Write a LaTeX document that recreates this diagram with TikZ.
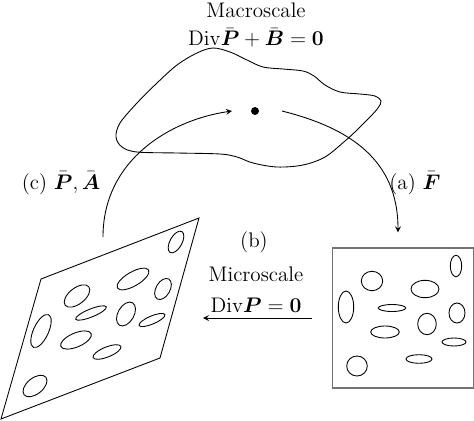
\documentclass[tikz,border=0pt]{standalone}
\usepackage{amsmath,amsfonts,amssymb}
\usepackage{tikz}
\usetikzlibrary{positioning}
\definecolor{boxgray}{rgb}{0.45,0.45,0.45}

\begin{document}
\begin{tikzpicture}[x=0.02cm, y=-0.02cm, line width=0.5pt, font=\large,
  arr/.style={->,>=stealth},
  incl/.style={line width=0.5pt}]
\useasboundingbox (0,0) rectangle (474,420);
% macroscale body
\draw plot[smooth cycle, tension=0.55] coordinates {(213,48) (230,52) (247,60) (263,67) (283,69) (303,71) (314,76) (325,85) (340,92) (360,94) (375,96) (381,101) (378,108) (370,117) (357,130) (345,141) (325,157) (303,165) (277,167) (253,163) (237,157) (220,154) (177,153) (137,152) (122,147) (116,137) (120,123) (137,103) (157,83) (177,65) (197,53)};
\node[circle, fill, inner sep=1.6pt] (pt) at (255,111) {};
\node (macro) at (256,10) {Macroscale};
\node (macroeq) at (256,38) {$\mathrm{Div}\bar{\boldsymbol{P}}+\bar{\boldsymbol{B}}=\boldsymbol{0}$};
% deformed cell
\coordinate (tl) at (41,279);
\coordinate (tr) at (199,218);
\coordinate (br) at (160,358);
\coordinate (bl) at (1,419);
\draw (tl) -- (tr) -- (br) -- (bl) -- cycle;
\foreach \x/\y/\a/\b/\r in {176/242/12/6/61, 133/279/18/7/30, 163/289/11.5/7/60, 77/296/15/8/38, 91/313/16.5/4/22, 126/314/13/8/60, 152/320/14/4/23, 41/331/18/7.5/65, 76/340/16.5/7/23, 107/352/15/5/22, 35/386/14/8/39}
  \draw[incl, shift={(\x,\y)}, rotate=\r] (0,0) ellipse [x radius=\a, y radius=\b];
% reference cell
\node[draw=boxgray, line width=0.8pt, minimum width=2.82cm, minimum height=2.8cm] (micro) at (403,318) {};
\foreach \x/\y/\a/\b in {456/266/5.7/10.7, 372/281/10.7/9.7, 425/289/14/8.7, 346/307/7.7/16, 392/308/13.7/3.5, 457/313/8/10, 427/324/9.3/10.7, 385/332/14.3/6, 454/342/12/4, 419/359/13/4.3, 357/366/10.3/10}
  \draw[incl] (\x,\y) ellipse [x radius=\a, y radius=\b];
\node (b) at (254,242) {(b)};
\node (microt) at (256,274) {Microscale};
\node (microeq) at (256,305) {$\mathrm{Div}\boldsymbol{P}=\boldsymbol{0}$};
\node (la) at (415,183) {(a) $\bar{\boldsymbol{F}}$};
\node (lc) at (61,183) {(c) $\bar{\boldsymbol{P}},\bar{\boldsymbol{A}}$};
% connectors
\coordinate (cin) at (103,237);
\draw[arr] (cin) .. controls (103,160) and (170,120) .. ([xshift=-0.46cm]pt.center);
\draw[arr] ([xshift=0.54cm]pt.center) .. controls (350,128) and (398,160) .. ([yshift=0.3cm]micro.north -| 398,0);
\draw[arr] ([xshift=-0.4cm]micro.west) -- (203,318);
\end{tikzpicture}
\end{document}
